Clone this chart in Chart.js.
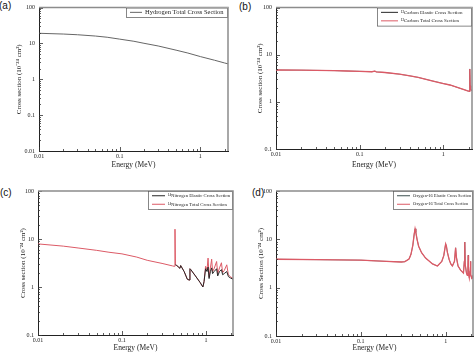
<!DOCTYPE html>
<html>
<head>
<meta charset="utf-8">
<script src="https://cdn.jsdelivr.net/npm/chart.js@4.4.1/dist/chart.umd.min.js"></script>
<style>
  body { margin: 0; background: #fff; width: 474px; height: 353px; position: relative; overflow: hidden; }
  .panel { position: absolute; }
  .tag { position: absolute; font: 10px "Liberation Sans", sans-serif; color: #111; }
</style>
</head>
<body>
<div class="tag" style="left:-1px;top:0px">(a)</div>
<div class="tag" style="left:239px;top:1px">(b)</div>
<div class="tag" style="left:0px;top:187px">(c)</div>
<div class="tag" style="left:252px;top:187px">(d)</div>
<canvas class="panel" id="chartA" width="237" height="176" style="left:0;top:0"></canvas>
<canvas class="panel" id="chartB" width="237" height="176" style="left:237px;top:0"></canvas>
<canvas class="panel" id="chartC" width="237" height="177" style="left:0;top:176px"></canvas>
<canvas class="panel" id="chartD" width="237" height="177" style="left:237px;top:176px"></canvas>
<script>
// tick labels
const xTickValues = [0.01, 0.1, 1];
const xTickLabels = ['0.01', '0.1', '1'];
const yTickValuesA = [0.01, 0.1, 1, 10, 100];
const yTickLabelsA = ['0.01', '0.1', '1', '10', '100'];
const yTickValues = [0.1, 1, 10, 100];
const yTickLabels = ['0.1', '1', '10', '100'];

// (a) hydrogen
const hydrogenEnergy = [0.01, 0.02, 0.03, 0.05, 0.07, 0.1, 0.15, 0.2, 0.3, 0.5, 0.7, 1.0, 1.5, 2.0, 2.2];
const hydrogenTotal = [19.2, 18.3, 17.5, 16.1, 14.9, 13.2, 11.5, 10.1, 8.5, 6.5, 5.4, 4.3, 3.4, 2.85, 2.7];

// (b) carbon-12
const carbonEnergy = [0.01, 0.02, 0.03, 0.05, 0.07, 0.1, 0.14, 0.152, 0.158, 0.2, 0.3, 0.4, 0.5, 0.75, 1.0, 1.2, 1.5, 1.8, 1.95, 2.05, 2.07, 2.09, 2.12, 2.2];
const carbonTotal = [4.74, 4.7, 4.66, 4.6, 4.52, 4.45, 4.36, 4.5, 4.32, 4.2, 3.86, 3.55, 3.3, 2.77, 2.45, 2.28, 2.0, 1.8, 1.71, 1.68, 5.0, 2.2, 1.8, 1.75];
const carbonElastic = [4.74, 4.7, 4.66, 4.6, 4.52, 4.45, 4.36, 4.5, 4.32, 4.2, 3.86, 3.55, 3.3, 2.77, 2.45, 2.28, 2.0, 1.8, 1.71, 1.68, 5.0, 2.2, 1.8, 1.75];

// (c) nitrogen-14
const nitrogenEnergy = [0.01, 0.02, 0.03, 0.05, 0.07, 0.1, 0.15, 0.2, 0.3, 0.4, 0.42, 0.428, 0.433, 0.45, 0.49, 0.5, 0.55, 0.6, 0.63, 0.645, 0.66, 0.75, 0.85, 0.92, 0.95, 0.99, 1.03, 1.06, 1.09, 1.13, 1.17, 1.2, 1.25, 1.34, 1.38, 1.45, 1.53, 1.58, 1.65, 1.77, 1.85, 1.95, 2.1];
const nitrogenTotal = [7.9, 7.1, 6.5, 5.8, 5.3, 4.9, 4.2, 3.6, 3.1, 2.75, 2.7, 16, 2.9, 2.8, 2.45, 2.8, 2.1, 1.45, 1.4, 2.4, 2.3, 1.7, 1.25, 1.0, 1.3, 2.7, 2.3, 4.0, 1.6, 2.5, 3.8, 2.1, 2.4, 3.4, 1.9, 2.5, 3.2, 2.0, 2.2, 2.9, 1.8, 1.65, 1.5];
const nitrogenElasticEnergy = [0.433, 0.45, 0.49, 0.5, 0.55, 0.6, 0.63, 0.645, 0.66, 0.75, 0.85, 0.92, 0.95, 0.99, 1.03, 1.06, 1.09, 1.13, 1.17, 1.2, 1.25, 1.34, 1.38, 1.45, 1.53, 1.58, 1.65, 1.77, 1.85, 1.95, 2.1];
const nitrogenElastic = [2.9, 2.8, 2.45, 2.8, 2.1, 1.45, 1.4, 2.4, 2.3, 1.7, 1.25, 1.0, 1.3, 2.4, 2.1, 2.6, 1.5, 2.1, 2.5, 1.9, 2.1, 2.4, 1.7, 2.1, 2.3, 1.8, 1.9, 2.1, 1.65, 1.55, 1.45];

// (d) oxygen-16
const oxygenEnergy = [0.01, 0.03, 0.1, 0.2, 0.3, 0.33, 0.37, 0.39, 0.41, 0.425, 0.436, 0.445, 0.46, 0.48, 0.52, 0.58, 0.7, 0.8, 0.9, 0.95, 0.98, 1.0, 1.02, 1.05, 1.1, 1.15, 1.2, 1.27, 1.31, 1.34, 1.4, 1.5, 1.62, 1.66, 1.68, 1.7, 1.76, 1.8, 1.83, 1.845, 1.86, 1.9, 1.94, 1.96, 1.98, 2.03, 2.08, 2.1];
const oxygenTotal = [3.87, 3.8, 3.7, 3.5, 3.4, 3.45, 3.9, 4.9, 7.5, 12.5, 16.5, 14.0, 10.0, 7.2, 5.3, 4.1, 3.1, 2.8, 3.5, 4.6, 6.5, 8.0, 7.2, 5.3, 3.8, 3.1, 2.8, 3.5, 6.7, 4.2, 2.8, 2.3, 2.0, 3.5, 8.8, 3.0, 2.0, 1.8, 2.5, 4.7, 2.0, 1.6, 2.2, 3.5, 1.9, 1.55, 1.6, 1.8];
const oxygenElastic = [3.87, 3.8, 3.7, 3.5, 3.4, 3.45, 3.9, 4.9, 7.5, 12.5, 16.5, 14.0, 10.0, 7.2, 5.3, 4.1, 3.1, 2.8, 3.5, 4.6, 6.5, 8.0, 7.2, 5.3, 3.8, 3.1, 2.8, 3.5, 6.7, 4.2, 2.8, 2.3, 2.0, 3.5, 8.8, 3.0, 2.0, 1.8, 2.5, 4.7, 2.0, 1.6, 2.2, 3.5, 1.9, 1.55, 1.6, 1.8];

const RED = '#dc5a66';
const BLACK = '#262626';
const SERIF = '"Liberation Serif", "Times New Roman", serif';

function pairs(xs, ys) {
    return xs.map((x, i) => ({ x: x, y: ys[i] }));
}

// inward tick marks on the log axes plus the grey top/right frame
const frameTicks = {
    id: 'frameTicks',
    afterDraw(chart) {
        const { ctx, chartArea: a, scales } = chart;
        ctx.save();
        ctx.strokeStyle = '#333';
        ctx.lineWidth = 0.8;
        [[scales.x, true], [scales.y, false]].forEach(([s, horiz]) => {
            const lo = Math.floor(Math.log10(s.min));
            const hi = Math.ceil(Math.log10(s.max));
            for (let p = lo; p <= hi; p++) {
                for (let k = 1; k < 10; k++) {
                    const v = k * Math.pow(10, p);
                    if (v < s.min * 0.999 || v > s.max * 1.001) continue;
                    const len = k === 1 ? 4 : 2;
                    const px = Math.round(s.getPixelForValue(v)) + 0.5;
                    ctx.beginPath();
                    if (horiz) { ctx.moveTo(px, a.bottom); ctx.lineTo(px, a.bottom - len); }
                    else { ctx.moveTo(a.left, px); ctx.lineTo(a.left + len, px); }
                    ctx.stroke();
                }
            }
        });
        ctx.strokeStyle = '#8c8c8c';
        ctx.lineWidth = 1.5;
        ctx.beginPath();
        ctx.moveTo(a.left, a.top);
        ctx.lineTo(a.right, a.top);
        ctx.lineTo(a.right, a.bottom);
        ctx.stroke();
        ctx.restore();
    }
};

// boxed legend in the top right corner of the plot
const boxLegend = {
    id: 'boxLegend',
    afterDraw(chart, args, opts) {
        const { ctx, chartArea: a } = chart;
        const sets = chart.data.datasets;
        const row = opts.row;
        const left = a.right - opts.width;
        const h = sets.length * row + 1;
        ctx.save();
        ctx.fillStyle = '#fff';
        ctx.fillRect(left, a.top, opts.width, h);
        ctx.strokeStyle = '#555';
        ctx.lineWidth = 0.7;
        ctx.strokeRect(left + 0.5, a.top + 0.5, opts.width - 1, h);
        ctx.font = opts.size + 'px ' + SERIF;
        ctx.textBaseline = 'middle';
        sets.forEach((ds, i) => {
            const cy = a.top + row * (i + 0.5) + 0.5;
            ctx.strokeStyle = opts.colors ? opts.colors[i] : ds.borderColor;
            ctx.lineWidth = 1;
            ctx.beginPath();
            ctx.moveTo(left + 4, cy);
            ctx.lineTo(left + 4 + opts.sample, cy);
            ctx.stroke();
            ctx.fillStyle = '#222';
            ctx.fillText(ds.label, left + 7 + opts.sample, cy);
        });
        ctx.restore();
    }
};

function makeChart(id, cfg) {
    const canvas = document.getElementById(id);
    const H = canvas.height;
    return new Chart(canvas, {
        type: 'line',
        data: { datasets: cfg.datasets },
        plugins: [frameTicks, boxLegend],
        options: {
            responsive: false,
            animation: false,
            parsing: false,
            layout: { autoPadding: false, padding: { left: 0, top: cfg.top, right: 237 - cfg.right, bottom: 0 } },
            elements: { point: { radius: 0 }, line: { borderWidth: 1, tension: 0 } },
            plugins: {
                legend: { display: false },
                tooltip: { enabled: false },
                boxLegend: cfg.legend
            },
            scales: {
                x: {
                    type: 'logarithmic',
                    min: 0.01,
                    max: cfg.xMax,
                    afterFit: s => { s.height = H - cfg.bottom; },
                    afterBuildTicks: s => { s.ticks = xTickValues.map(v => ({ value: v })); },
                    grid: { display: false, drawTicks: false },
                    border: { display: true, color: '#222', width: 1 },
                    ticks: {
                        autoSkip: false, maxRotation: 0, padding: 2, color: '#222',
                        font: { family: SERIF, size: 6 },
                        callback: (v, i) => xTickLabels[i]
                    },
                    title: {
                        display: true, text: 'Energy (MeV)', color: '#222',
                        font: { family: SERIF, size: 7.5 },
                        padding: { top: 0, bottom: cfg.xTitlePad }
                    }
                },
                y: {
                    type: 'logarithmic',
                    min: cfg.yMin,
                    max: 100,
                    afterFit: s => { s.width = cfg.left; },
                    afterBuildTicks: s => { s.ticks = cfg.yValues.map(v => ({ value: v })); },
                    grid: { display: false, drawTicks: false },
                    border: { display: true, color: '#222', width: 1 },
                    ticks: {
                        autoSkip: false, padding: 4, color: '#222',
                        font: { family: SERIF, size: 6 },
                        callback: (v, i) => cfg.yLabels[i]
                    },
                    title: {
                        display: true, text: cfg.yTitle, color: '#222',
                        font: { family: SERIF, size: 7 },
                        padding: { top: cfg.yTitlePad, bottom: 0 }
                    }
                }
            }
        }
    });
}

makeChart('chartA', {
    left: 39, right: 228, top: 4, bottom: 151, xMax: 2.2, yMin: 0.01,
    yValues: yTickValuesA, yLabels: yTickLabelsA,
    yTitle: 'Cross section (10\u207B\u00B2\u2074 cm\u00B2)', yTitlePad: 15, xTitlePad: 6.5,
    legend: { width: 102, row: 8.5, size: 6.5, sample: 12 },
    datasets: [
        { label: 'Hydrogen Total Cross Section', data: pairs(hydrogenEnergy, hydrogenTotal), borderColor: '#666' }
    ]
});

// total (red) drawn over a thinner elastic line in (b) and (d)
makeChart('chartB', {
    left: 39, right: 235, top: 4, bottom: 149, xMax: 2.2, yMin: 0.1,
    yValues: yTickValues, yLabels: yTickLabels,
    yTitle: 'Cross section (10\u207B\u00B2\u2074 cm\u00B2)', yTitlePad: 19, xTitlePad: 6.5,
    legend: { width: 95, row: 8.5, size: 5, sample: 17 },
    datasets: [
        { label: '\u00B9\u00B2Carbon Elastic Cross Section', data: pairs(carbonEnergy, carbonElastic), borderColor: BLACK, borderWidth: 0.5, order: 1 },
        { label: '\u00B9\u00B2Carbon Total Cross Section', data: pairs(carbonEnergy, carbonTotal), borderColor: RED, borderWidth: 1.3, order: 0 }
    ]
});

// elastic (black) drawn over total in (c)
makeChart('chartC', {
    left: 38, right: 233, top: 15, bottom: 159, xMax: 2.1, yMin: 0.1,
    yValues: yTickValues, yLabels: yTickLabels,
    yTitle: 'Cross section (10\u207B\u00B2\u2074 cm\u00B2)', yTitlePad: 19, xTitlePad: 0,
    legend: { width: 85, row: 8.5, size: 4.8, sample: 13 },
    datasets: [
        { label: '\u00B9\u2074Nitrogen Elastic Cross Section', data: pairs(nitrogenElasticEnergy, nitrogenElastic), borderColor: BLACK, order: 0 },
        { label: '\u00B9\u2074Nitrogen Total Cross Section', data: pairs(nitrogenEnergy, nitrogenTotal), borderColor: RED, order: 1 }
    ]
});

makeChart('chartD', {
    left: 39, right: 236, top: 15, bottom: 160, xMax: 2.1, yMin: 0.1,
    yValues: yTickValues, yLabels: yTickLabels,
    yTitle: 'Cross Section (10\u207B\u00B2\u2074 cm\u00B2)', yTitlePad: 20, xTitlePad: 0,
    legend: { width: 80, row: 8.5, size: 4.4, sample: 13, colors: ['#3d4f4f', RED] },
    datasets: [
        { label: 'Oxygen-16 Elastic Cross Section', data: pairs(oxygenEnergy, oxygenElastic), borderColor: BLACK, borderWidth: 0.5, order: 1 },
        { label: 'Oxygen-16 Total Cross Section', data: pairs(oxygenEnergy, oxygenTotal), borderColor: RED, borderWidth: 1.3, order: 0 }
    ]
});
</script>
</body>
</html>
